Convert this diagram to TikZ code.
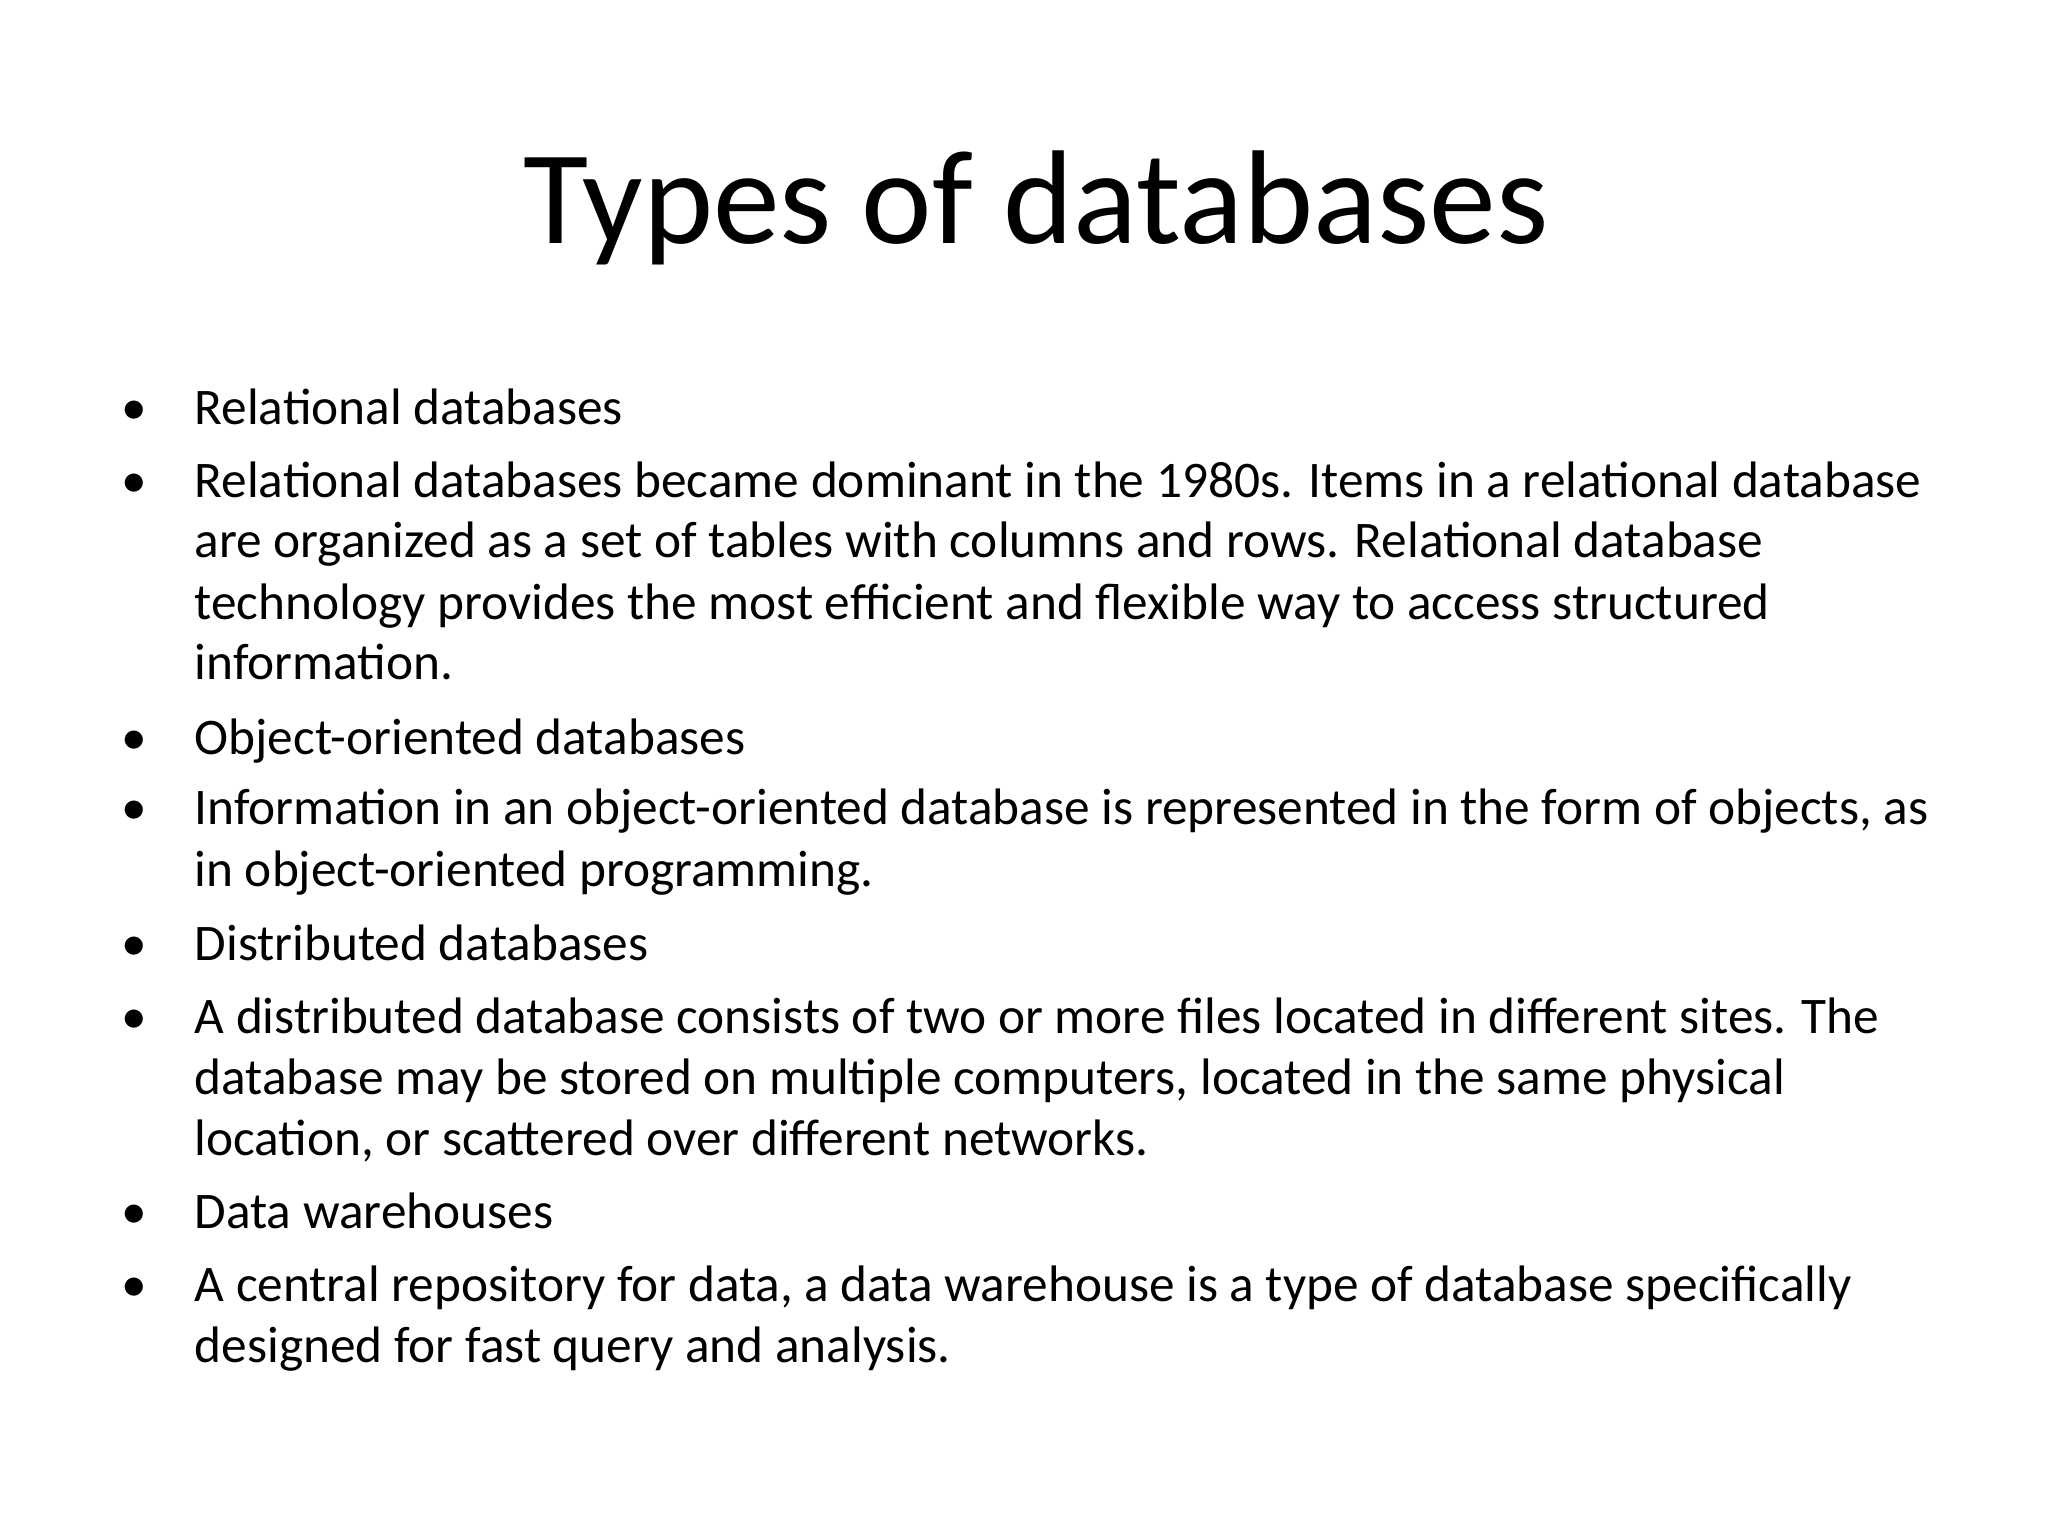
\documentclass[tikz,border=0pt]{standalone}
\usepackage{fontspec}
\setmainfont{Carlito}
\begin{document}
\begin{tikzpicture}[yscale=-1,
  ln/.style={anchor=base west,inner sep=0pt,font=\fontsize{14.6}{17.5}\selectfont},
  bl/.style={anchor=base,inner sep=0pt,font=\fontsize{14.6}{17.5}\selectfont}]
\useasboundingbox (0,0) rectangle (20.48,15.36);
\node[anchor=base,inner sep=0pt,font=\fontsize{38}{46}\selectfont] (title) at (10.36,2.44) {Types of databases};
\foreach \y/\n in {4.25/b1,4.97/b2,7.54/b3,8.25/b4,9.60/b5,10.33/b6,12.28/b7,13.01/b8}
  \node[bl] (\n) at (1.34,\y) {\textbullet};
\node[ln] (l1) at (1.94,4.25) {Relational databases};
\node[ln] (l2) at (1.94,4.97) {Relational databases became dominant in the 1980s. Items in a relational database};
\node[ln] (l3) at (1.94,5.58) {are organized as a set of tables with columns and rows. Relational database};
\node[ln] (l4) at (1.94,6.19) {technology provides the most efficient and flexible way to access structured};
\node[ln] (l5) at (1.94,6.80) {information.};
\node[ln] (l6) at (1.94,7.54) {Object-oriented databases};
\node[ln] (l7) at (1.94,8.25) {Information in an object-oriented database is represented in the form of objects, as};
\node[ln] (l8) at (1.94,8.87) {in object-oriented programming.};
\node[ln] (l9) at (1.94,9.60) {Distributed databases};
\node[ln] (l10) at (1.94,10.33) {A distributed database consists of two or more files located in different sites. The};
\node[ln] (l11) at (1.94,10.94) {database may be stored on multiple computers, located in the same physical};
\node[ln] (l12) at (1.94,11.55) {location, or scattered over different networks.};
\node[ln] (l13) at (1.94,12.28) {Data warehouses};
\node[ln] (l14) at (1.94,13.01) {A central repository for data, a data warehouse is a type of database specifically};
\node[ln] (l15) at (1.94,13.62) {designed for fast query and analysis.};
\end{tikzpicture}
\end{document}
